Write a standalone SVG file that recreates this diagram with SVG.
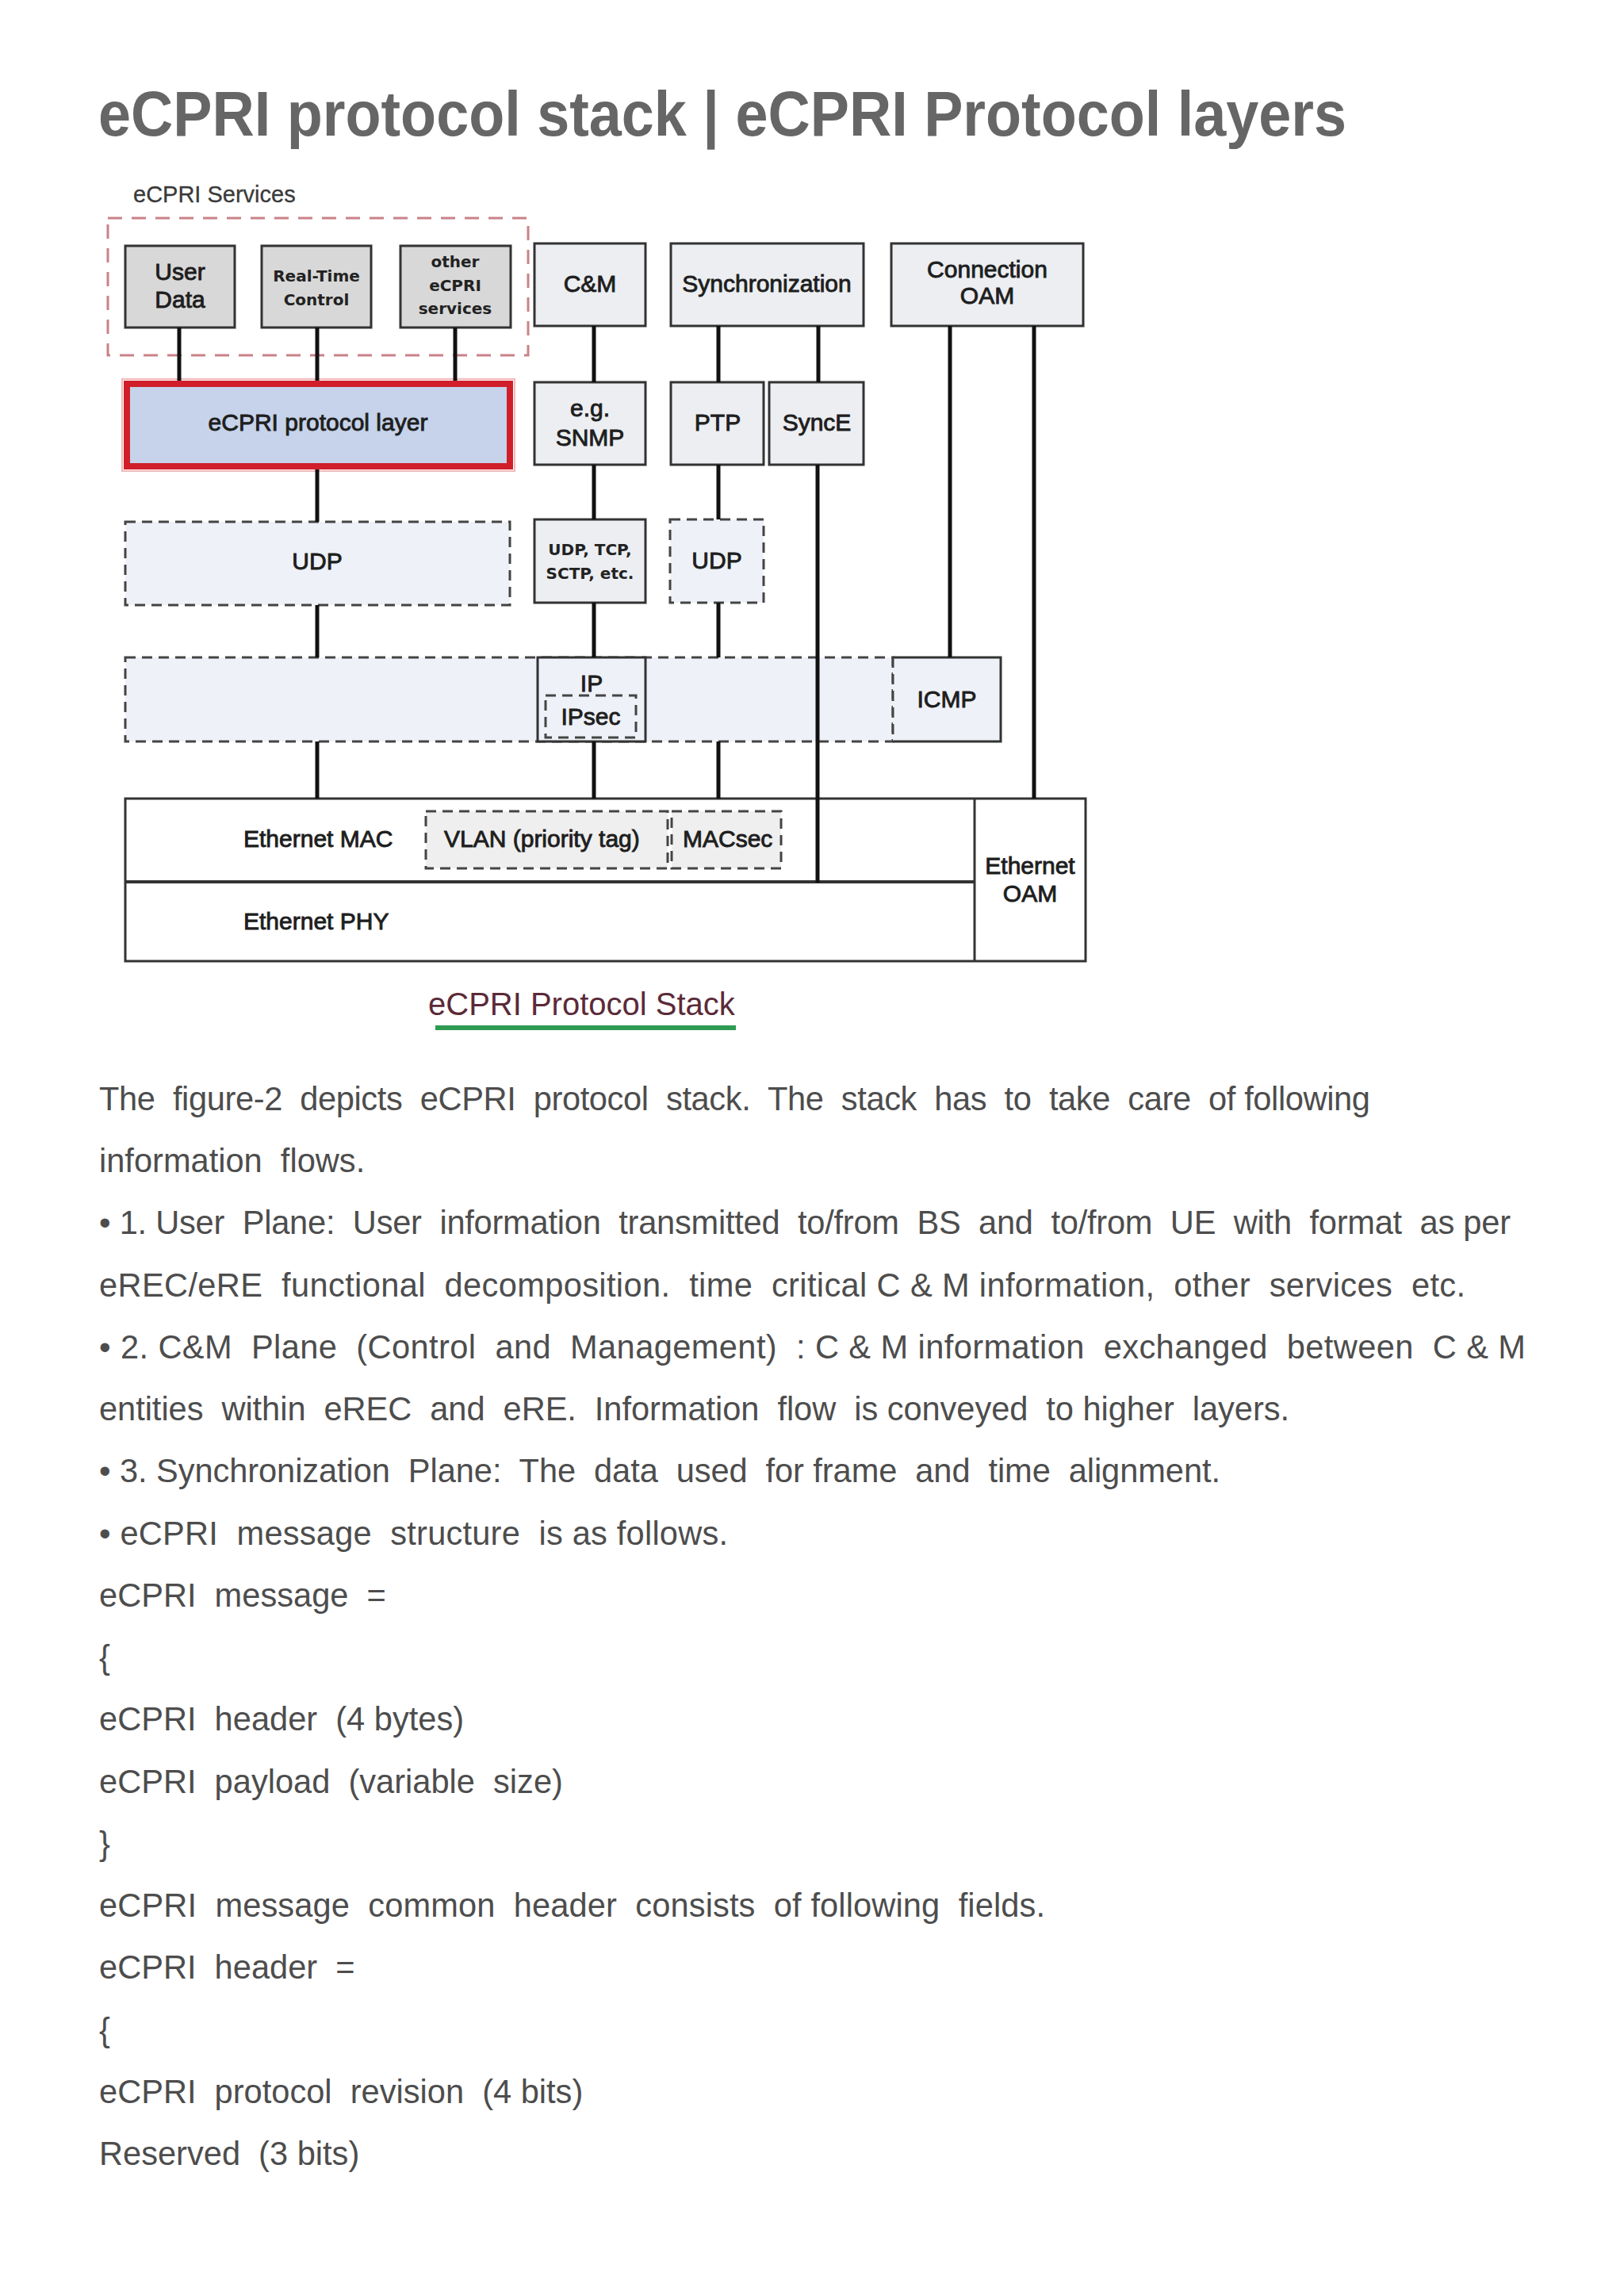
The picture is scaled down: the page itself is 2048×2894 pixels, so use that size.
<svg xmlns="http://www.w3.org/2000/svg" width="2048" height="2894" viewBox="0 0 2048 2894">
<style>
.box{stroke:#333;stroke-width:3}
.svc{fill:#d8d8d8}
.lt{fill:#eceef2}
.dash{fill:#eef1f7;stroke:#444;stroke-width:3;stroke-dasharray:13 8}
.dashg{fill:#efefef;stroke:#444;stroke-width:3;stroke-dasharray:13 8}
.conn line{stroke:#111;stroke-width:5}
.t{font-family:"Liberation Sans",Arial,sans-serif;font-size:30px;fill:#1e1e1e;stroke:#1e1e1e;stroke-width:0.9;text-anchor:middle}
.ts{font-family:"Liberation Sans",Arial,sans-serif;font-size:30px;fill:#1e1e1e;stroke:#1e1e1e;stroke-width:0.9}
.tb{font-family:"DejaVu Sans",Verdana,sans-serif;font-weight:bold;font-size:20px;fill:#222;text-anchor:middle}
.body{font-family:"Liberation Sans",Arial,sans-serif;font-size:41.6px;fill:#4d4d4d;white-space:pre}
</style>
<rect width="2048" height="2894" fill="#ffffff"/>
<text x="124" y="171" font-family="'Liberation Sans',Arial,sans-serif" font-size="80" font-weight="bold" fill="#666666" textLength="1574" lengthAdjust="spacingAndGlyphs">eCPRI protocol stack | eCPRI Protocol layers</text>

<g id="services-group">
<text x="168" y="255" font-family="'Liberation Sans',Arial,sans-serif" font-size="29" fill="#3a3a3a" stroke="#3a3a3a" stroke-width="0.3">eCPRI Services</text>
<rect x="136" y="275" width="530" height="173" fill="none" stroke="#c98288" stroke-width="3" stroke-dasharray="18 12"/>
</g>
<g id="user-data"><rect class="box svc" x="158" y="310" width="138" height="103"/><text class="t" x="227" y="353">User</text><text class="t" x="227" y="388">Data</text></g>
<g id="real-time-control"><rect class="box svc" x="330" y="310" width="138" height="103"/><text class="tb" x="399" y="355">Real-Time</text><text class="tb" x="399" y="385">Control</text></g>
<g id="other-services"><rect class="box svc" x="505" y="310" width="139" height="103"/><text class="tb" x="574" y="337">other</text><text class="tb" x="574" y="367">eCPRI</text><text class="tb" x="574" y="396">services</text></g>
<g id="cm"><rect class="box lt" x="674" y="307" width="140" height="104"/><text class="t" x="744" y="368">C&amp;M</text></g>
<g id="synchronization"><rect class="box lt" x="846" y="307" width="243" height="104"/><text class="t" x="967" y="368" font-size="32">Synchronization</text></g>
<g id="connection-oam"><rect class="box lt" x="1124" y="307" width="242" height="104"/><text class="t" x="1245" y="350" font-size="31">Connection</text><text class="t" x="1245" y="383" font-size="31">OAM</text></g>

<g id="ecpri-protocol-layer"><rect x="154" y="478" width="495" height="116" fill="none" stroke="#f2b8b8" stroke-width="2"/><rect x="160" y="484" width="483" height="104" fill="#c6d3ea" stroke="#d01f2b" stroke-width="8"/><text class="t" x="401" y="543" font-size="31">eCPRI protocol layer</text></g>
<g id="snmp"><rect class="box lt" x="674" y="482" width="140" height="104"/><text class="t" x="744" y="525">e.g.</text><text class="t" x="744" y="562">SNMP</text></g>
<g id="ptp"><rect class="box lt" x="846" y="482" width="117" height="104"/><text class="t" x="905" y="543">PTP</text></g>
<g id="synce"><rect class="box lt" x="970" y="482" width="119" height="104"/><text class="t" x="1030" y="543">SyncE</text></g>

<g id="udp-main"><rect class="dash" x="158" y="658" width="485" height="105"/><text class="t" x="400" y="718">UDP</text></g>
<g id="udp-tcp-sctp"><rect class="box lt" x="674" y="655" width="140" height="105"/><text class="tb" x="744" y="700" font-size="21">UDP, TCP,</text><text class="tb" x="744" y="730" font-size="21">SCTP, etc.</text></g>
<g id="udp-sync"><rect class="dash" x="845" y="655" width="118" height="105"/><text class="t" x="904" y="717">UDP</text></g>

<g id="ip-layer"><rect class="dash" x="158" y="829" width="968" height="106"/></g>
<g id="ip"><rect x="678" y="829" width="136" height="106" fill="#eef1f7" stroke="#333" stroke-width="3"/><text class="t" x="746" y="872">IP</text><rect class="dash" x="688" y="877" width="114" height="53" fill="#eef1f7"/><text class="t" x="745" y="914">IPsec</text></g>
<g id="icmp"><rect x="1126" y="829" width="136" height="106" fill="#eef1f7"/><path d="M1126 829H1262V935H1126" fill="none" stroke="#333" stroke-width="3"/><line x1="1126" y1="829" x2="1126" y2="935" stroke="#444" stroke-width="3" stroke-dasharray="13 8"/><text class="t" x="1194" y="892">ICMP</text></g>

<g id="ethernet">
<rect x="158" y="1007" width="1211" height="205" fill="#ffffff" stroke="#333" stroke-width="3"/>
<line x1="158" y1="1112" x2="1229" y2="1112" stroke="#333" stroke-width="4"/>
<line x1="1229" y1="1007" x2="1229" y2="1212" stroke="#333" stroke-width="3"/>
</g>
<g id="ethernet-mac"><text class="ts" x="307" y="1068">Ethernet MAC</text></g>
<g id="vlan"><rect class="dashg" x="537" y="1023" width="305" height="72"/><text class="ts" x="560" y="1068">VLAN (priority tag)</text></g>
<g id="macsec"><rect class="dashg" x="847" y="1023" width="138" height="72"/><text class="ts" x="861" y="1068">MACsec</text></g>
<g id="ethernet-phy"><text class="ts" x="307" y="1172">Ethernet PHY</text></g>
<g id="ethernet-oam"><text class="t" x="1299" y="1102">Ethernet</text><text class="t" x="1299" y="1137">OAM</text></g>

<g class="conn" id="connectors">
<line x1="226" y1="413" x2="226" y2="480"/>
<line x1="400" y1="413" x2="400" y2="480"/>
<line x1="574" y1="413" x2="574" y2="480"/>
<line x1="400" y1="592" x2="400" y2="658"/>
<line x1="400" y1="763" x2="400" y2="829"/>
<line x1="400" y1="935" x2="400" y2="1007"/>
<line x1="749" y1="411" x2="749" y2="482"/>
<line x1="749" y1="586" x2="749" y2="655"/>
<line x1="749" y1="760" x2="749" y2="829"/>
<line x1="749" y1="935" x2="749" y2="1007"/>
<line x1="906" y1="411" x2="906" y2="482"/>
<line x1="906" y1="586" x2="906" y2="655"/>
<line x1="906" y1="760" x2="906" y2="829"/>
<line x1="906" y1="935" x2="906" y2="1007"/>
<line x1="1032" y1="411" x2="1032" y2="482"/>
<line x1="1031" y1="586" x2="1031" y2="1113"/>
<line x1="1198" y1="411" x2="1198" y2="829"/>
<line x1="1304" y1="411" x2="1304" y2="1007"/>
</g>

<g id="caption">
<text x="540" y="1280" font-family="'Liberation Sans',Arial,sans-serif" font-size="40" fill="#5b2a38">eCPRI Protocol Stack</text>
<line x1="549" y1="1296" x2="928" y2="1296" stroke="#2f9a52" stroke-width="6"/>
</g>

<g id="body-text">
<text class="body" xml:space="preserve" x="125" y="1400" textLength="1603" lengthAdjust="spacing">The  figure-2  depicts  eCPRI  protocol  stack.  The  stack  has  to  take  care  of following</text>
<text class="body" xml:space="preserve" x="125" y="1478">information  flows.</text>
<text class="body" xml:space="preserve" x="125" y="1556" textLength="1780" lengthAdjust="spacing">• 1. User  Plane:  User  information  transmitted  to/from  BS  and  to/from  UE  with  format  as per</text>
<text class="body" xml:space="preserve" x="125" y="1635" textLength="1723" lengthAdjust="spacing">eREC/eRE  functional  decomposition.  time  critical C &amp; M information,  other  services  etc.</text>
<text class="body" xml:space="preserve" x="125" y="1713" textLength="1799" lengthAdjust="spacing">• 2. C&amp;M  Plane  (Control  and  Management)  : C &amp; M information  exchanged  between  C &amp; M</text>
<text class="body" xml:space="preserve" x="125" y="1791" textLength="1501" lengthAdjust="spacing">entities  within  eREC  and  eRE.  Information  flow  is conveyed  to higher  layers.</text>
<text class="body" xml:space="preserve" x="125" y="1869" textLength="1414" lengthAdjust="spacing">• 3. Synchronization  Plane:  The  data  used  for frame  and  time  alignment.</text>
<text class="body" xml:space="preserve" x="125" y="1948" textLength="793" lengthAdjust="spacing">• eCPRI  message  structure  is as follows.</text>
<text class="body" xml:space="preserve" x="125" y="2026">eCPRI  message  =</text>
<text class="body" xml:space="preserve" x="125" y="2104">{</text>
<text class="body" xml:space="preserve" x="125" y="2182">eCPRI  header  (4 bytes)</text>
<text class="body" xml:space="preserve" x="125" y="2261">eCPRI  payload  (variable  size)</text>
<text class="body" xml:space="preserve" x="125" y="2339">}</text>
<text class="body" xml:space="preserve" x="125" y="2417" textLength="1193" lengthAdjust="spacing">eCPRI  message  common  header  consists  of following  fields.</text>
<text class="body" xml:space="preserve" x="125" y="2495">eCPRI  header  =</text>
<text class="body" xml:space="preserve" x="125" y="2574">{</text>
<text class="body" xml:space="preserve" x="125" y="2652">eCPRI  protocol  revision  (4 bits)</text>
<text class="body" xml:space="preserve" x="125" y="2730">Reserved  (3 bits)</text>
</g>
</svg>
